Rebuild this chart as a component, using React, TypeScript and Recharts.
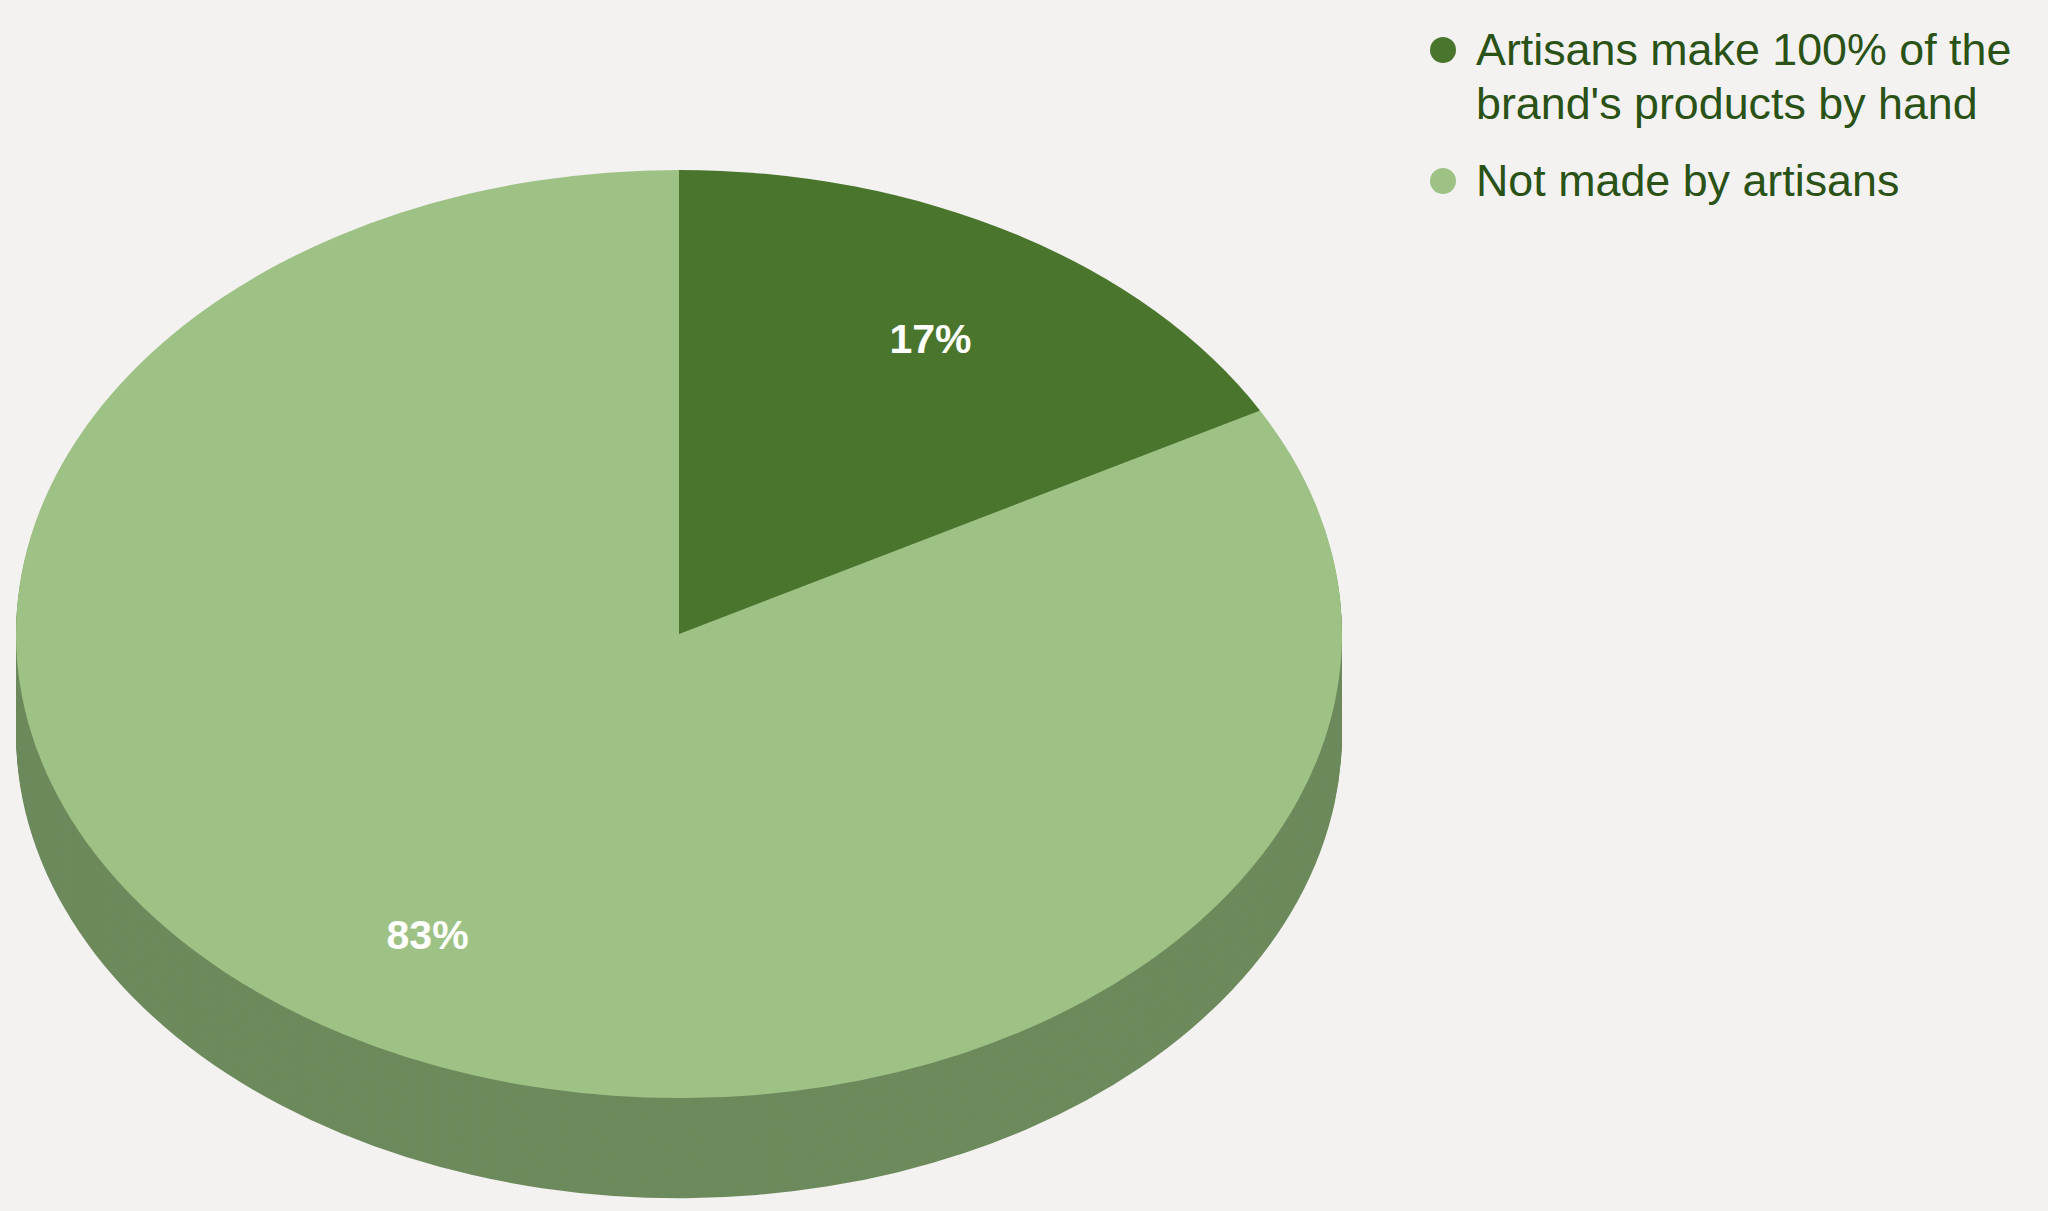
import { PieChart, Pie, Cell } from "recharts";

const sliceNames = ["Artisans make 100% of the brand's products by hand", "Not made by artisans"];
const sliceValues = [17, 83];
const topColors = ["#4a752c", "#9ec285"];
const sideColors = ["#36561f", "#6d8a5c"];

const data = sliceNames.map((name, i) => ({ name, value: sliceValues[i] }));

// the pie is drawn as a circle and squashed vertically to fake the 3D tilt
const TILT = 0.7;
const R = 663;
const CX = 679;
const CY = 680;
const DEPTH = 143; // in unsquashed px
const layers = Array.from({ length: Math.ceil(DEPTH / 3) }, (_, i) => DEPTH - i * 3);

const RAD = Math.PI / 180;

const renderLabel = (props: any) => {
  const { cx, cy, midAngle, outerRadius, percent } = props;
  const r = outerRadius * 0.745;
  const x = cx + r * Math.cos(-midAngle * RAD);
  const y = cy + r * Math.sin(-midAngle * RAD);
  return (
    <text
      transform={`translate(${x} ${y}) scale(1 ${1 / TILT})`}
      x={0}
      y={3}
      textAnchor="middle"
      dominantBaseline="central"
      fill="#ffffff"
      fontWeight="bold"
      fontSize={41}
      fontFamily="'Liberation Sans', Arial, sans-serif"
    >
      {`${Math.round(percent * 100)}%`}
    </text>
  );
};

export default function App() {
  return (
    <div
      style={{
        position: "absolute",
        left: 0,
        top: 0,
        width: 2048,
        height: 1211,
        background: "#f3f2f1",
        overflow: "hidden",
      }}
    >
      <div
        style={{
          position: "absolute",
          left: 0,
          top: 634 - CY * TILT,
          transform: `scaleY(${TILT})`,
          transformOrigin: "top left",
        }}
      >
        <PieChart width={1400} height={1500} margin={{ top: 0, right: 0, bottom: 0, left: 0 }}>
          {layers.map((off) => (
            <Pie
              key={off}
              data={data}
              dataKey="value"
              cx={CX}
              cy={CY + off}
              outerRadius={R}
              startAngle={90}
              endAngle={-270}
              stroke="none"
              isAnimationActive={false}
            >
              {data.map((d, i) => (
                <Cell key={d.name} fill={sideColors[i]} />
              ))}
            </Pie>
          ))}
          <Pie
            data={data}
            dataKey="value"
            cx={CX}
            cy={CY}
            outerRadius={R}
            startAngle={90}
            endAngle={-270}
            stroke="none"
            label={renderLabel}
            labelLine={false}
            isAnimationActive={false}
          >
            {data.map((d, i) => (
              <Cell key={d.name} fill={topColors[i]} />
            ))}
          </Pie>
        </PieChart>
      </div>

      <div
        style={{
          position: "absolute",
          left: 1430,
          top: 22,
          fontFamily: "'Liberation Sans', Arial, sans-serif",
          fontSize: 44.8,
          lineHeight: "54px",
          color: "#2a5216",
        }}
      >
        {data.map((d, i) => (
          <div key={d.name} style={{ position: "relative", marginBottom: 23 }}>
            <span
              style={{
                position: "absolute",
                left: 0,
                top: 15,
                width: 26,
                height: 26,
                borderRadius: "50%",
                background: topColors[i],
              }}
            />
            <div style={{ marginLeft: 46, width: 600 }}>{d.name}</div>
          </div>
        ))}
      </div>
    </div>
  );
}
